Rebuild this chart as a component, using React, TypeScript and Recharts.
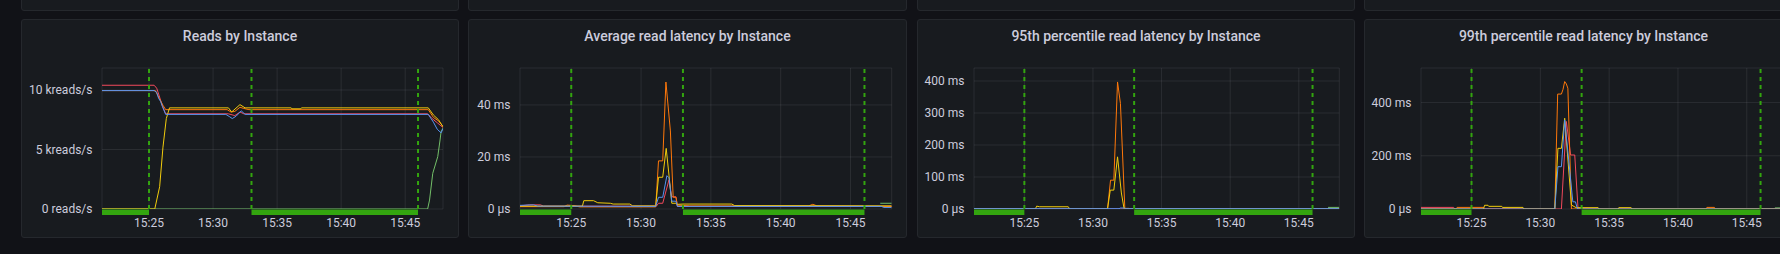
import React from 'react';
import { LineChart, Line, XAxis, YAxis, CartesianGrid, ReferenceLine, ReferenceArea } from 'recharts';

// ---------- shared time axis (minutes after 15:00) ----------
const T_MIN = 21.33;
const T_MAX = 47.95;
const timeTicks = [25, 30, 35, 40, 45];
const timeTickLabels = ['15:25', '15:30', '15:35', '15:40', '15:45'];

// annotation regions [start, end] in minutes after 15:00
const annotationRegions: [number, number][] = [[20, 25], [33, 46]];

// ---------- Reads by Instance (reads/s) ----------
const readsTicks = [0, 5000, 10000];
const readsTickLabels = ['0 reads/s', '5 kreads/s', '10 kreads/s'];
const readsGreen: [number, number][] = [[21.33, 0], [46.75, 0], [46.9, 750], [47.15, 3000], [47.54, 4400], [47.72, 5800], [47.8, 6500], [47.95, 6800]];
const readsRed: [number, number][] = [[21.33, 10400], [25.4, 10400], [25.6, 10150], [25.8, 9500], [26.0, 8800], [26.3, 8000], [31.2, 8000], [31.7, 7850], [32.1, 8150], [32.4, 8000], [46.75, 8000], [47.1, 7600], [47.5, 7250], [47.95, 6850]];
const readsOrange: [number, number][] = [[21.33, 9950], [25.5, 9950], [25.8, 9300], [26.1, 8700], [26.3, 8350], [31.1, 8350], [31.4, 8150], [31.7, 8200], [32.1, 8550], [32.4, 8450], [32.8, 8350], [46.8, 8350], [47.2, 7700], [47.6, 7400], [47.95, 6950]];
const readsYellow: [number, number][] = [[21.33, 0], [25.45, 0], [25.83, 1870], [26.09, 5200], [26.35, 7600], [26.6, 8500], [31.2, 8500], [31.45, 8150], [32.1, 8770], [32.5, 8500], [36.1, 8500], [36.15, 8420], [36.85, 8420], [36.9, 8500], [46.8, 8500], [47.2, 7900], [47.6, 7500], [47.95, 6900]];
const readsBlue: [number, number][] = [[21.33, 9950], [25.4, 9950], [25.6, 9800], [25.75, 9300], [25.9, 9050], [26.05, 8600], [26.3, 7950], [31.0, 7950], [31.3, 7750], [31.5, 7600], [31.8, 7800], [32.2, 8250], [32.5, 7950], [46.8, 7950], [47.2, 7300], [47.5, 6700], [47.8, 6400], [47.95, 6750]];

// ---------- Average read latency (ms) ----------
const avgTicks = [0, 20, 40];
const avgTickLabels = ['0 µs', '20 ms', '40 ms'];
const avgGreen: [number, number][] = [[47.13, 2.2], [47.95, 2.2]];
const avgRed: [number, number][] = [[21.33, 1.2], [22.0, 1.6], [22.8, 1.6], [23.0, 1.1], [31.1, 1.1], [31.25, 2.2], [31.55, 2.2], [32.0, 11.2], [32.2, 4.7], [32.5, 4.7], [32.6, 1.0], [47.95, 1.0]];
const avgOrange: [number, number][] = [[21.33, 0.9], [24.5, 0.9], [24.7, 1.5], [25.2, 1.3], [25.6, 0.8], [31.05, 0.8], [31.25, 18.5], [31.55, 18.5], [31.78, 48.8], [32.1, 30.0], [32.3, 4.5], [32.5, 4.5], [32.6, 1.5], [33.5, 1.2], [42.0, 1.2], [42.3, 1.8], [42.6, 1.2], [47.95, 1.0]];
const avgYellow: [number, number][] = [[21.33, 1.1], [25.8, 1.1], [25.9, 3.2], [26.6, 3.2], [26.9, 2.4], [27.8, 2.2], [28.0, 1.9], [29.2, 1.9], [29.4, 1.2], [31.05, 1.2], [31.25, 12.2], [31.55, 12.2], [31.8, 23.3], [32.0, 13.0], [32.2, 2.2], [32.5, 2.2], [32.6, 1.8], [33.0, 1.9], [36.5, 1.9], [36.7, 1.3], [47.95, 1.2]];
const avgBlue: [number, number][] = [[21.33, 1.4], [22.3, 1.6], [22.6, 1.1], [31.05, 1.0], [31.25, 4.5], [31.55, 4.5], [31.85, 12.8], [32.0, 12.0], [32.2, 3.0], [32.5, 3.0], [32.6, 1.0], [47.2, 1.0], [47.4, 0.6], [47.95, 0.6]];

// ---------- 95th percentile read latency (ms) ----------
const p95Ticks = [0, 100, 200, 300, 400];
const p95TickLabels = ['0 µs', '100 ms', '200 ms', '300 ms', '400 ms'];
const p95Green: [number, number][] = [[47.13, 5], [47.95, 5]];
const p95Red: [number, number][] = [[21.33, 0], [47.95, 0]];
const p95Orange: [number, number][] = [[21.33, 0], [31.06, 0], [31.28, 90], [31.52, 90], [31.79, 397], [32.0, 330], [32.32, 2], [32.6, 2], [32.7, 0], [47.95, 0]];
const p95Yellow: [number, number][] = [[21.33, 0], [25.8, 0], [25.9, 9], [26.1, 7], [28.2, 7], [28.3, 0], [31.06, 0], [31.26, 59], [31.52, 59], [31.79, 163], [32.07, 50], [32.27, 0], [47.95, 0]];
const p95Blue: [number, number][] = [[21.33, 1], [31.9, 1], [32.0, 3], [32.3, 3], [32.4, 1], [47.95, 1]];

// ---------- 99th percentile read latency (ms) ----------
const p99Ticks = [0, 200, 400];
const p99TickLabels = ['0 µs', '200 ms', '400 ms'];
const p99Green: [number, number][] = [[47.04, 4], [47.95, 4]];
const p99Red: [number, number][] = [[21.33, 6], [23.7, 6], [23.8, 0], [31.53, 0], [31.89, 329], [32.2, 203], [32.5, 203], [32.74, 0], [47.95, 0]];
const p99Orange: [number, number][] = [[21.33, 0], [23.9, 0], [23.95, 6], [25.87, 6], [25.9, 0], [31.05, 0], [31.26, 432], [31.53, 432], [31.65, 450], [31.77, 479], [31.89, 470], [32.0, 454], [32.26, 0], [42.05, 0], [42.1, 6], [42.65, 6], [42.7, 0], [47.95, 0]];
const p99Yellow: [number, number][] = [[21.33, 0], [25.87, 0], [25.95, 14], [26.2, 14], [26.25, 10], [27.2, 10], [27.25, 6], [28.74, 6], [28.8, 0], [31.05, 0], [31.28, 228], [31.53, 228], [31.77, 341], [32.26, 15], [32.6, 5], [34.2, 5], [34.25, 0], [35.67, 0], [35.7, 5], [36.6, 5], [36.65, 0], [47.95, 0]];
const p99Blue: [number, number][] = [[21.33, 0], [31.05, 0], [31.28, 159], [31.53, 159], [31.77, 335], [32.36, 27], [32.55, 27], [32.7, 0], [47.95, 0]];

// ---------- styling ----------
const GREEN = '#73BF69';
const YELLOW = '#F2CC0C';
const BLUE = '#5794F2';
const ORANGE = '#FF780A';
const RED = '#F2495C';
const ANN = '#33a50f';
const TEXT = '#ccccdc';
const GRID = 'rgba(204,204,220,0.10)';
const FONT = 'Roboto, "Open Sans", sans-serif';

const toPts = (a: [number, number][]) => a.map(([t, v]) => ({ t, v }));

type Panel = {
  title: string;
  left: number;
  width: number;
  yAxisWidth: number;
  marginRight: number;
  yMax: number;
  yTicks: number[];
  yTickLabels: string[];
  series: { color: string; data: [number, number][] }[];
};

const panels: Panel[] = [
  {
    title: 'Reads by Instance', left: 21, width: 438, yAxisWidth: 81, marginRight: 16, yMax: 11850,
    yTicks: readsTicks, yTickLabels: readsTickLabels,
    series: [
      { color: GREEN, data: readsGreen }, { color: RED, data: readsRed }, { color: ORANGE, data: readsOrange },
      { color: YELLOW, data: readsYellow }, { color: BLUE, data: readsBlue },
    ],
  },
  {
    title: 'Average read latency by Instance', left: 468, width: 439, yAxisWidth: 52, marginRight: 15.3, yMax: 54.2,
    yTicks: avgTicks, yTickLabels: avgTickLabels,
    series: [
      { color: GREEN, data: avgGreen }, { color: RED, data: avgRed }, { color: ORANGE, data: avgOrange },
      { color: YELLOW, data: avgYellow }, { color: BLUE, data: avgBlue },
    ],
  },
  {
    title: '95th percentile read latency by Instance', left: 917, width: 438, yAxisWidth: 57, marginRight: 15.7, yMax: 440.6,
    yTicks: p95Ticks, yTickLabels: p95TickLabels,
    series: [
      { color: GREEN, data: p95Green }, { color: RED, data: p95Red }, { color: ORANGE, data: p95Orange },
      { color: YELLOW, data: p95Yellow }, { color: BLUE, data: p95Blue },
    ],
  },
  {
    title: '99th percentile read latency by Instance', left: 1364, width: 439, yAxisWidth: 57, marginRight: 15.6, yMax: 530,
    yTicks: p99Ticks, yTickLabels: p99TickLabels,
    series: [
      { color: GREEN, data: p99Green }, { color: RED, data: p99Red }, { color: ORANGE, data: p99Orange },
      { color: YELLOW, data: p99Yellow }, { color: BLUE, data: p99Blue },
    ],
  },
];

const RegionBar = (props: any) => {
  const { x, y, width, height } = props;
  return <rect x={x} y={y + height + 0.5} width={width} height={5.5} fill={ANN} />;
};

const boundaries = annotationRegions
  .flatMap((r) => r)
  .filter((t) => t > T_MIN && t < T_MAX);

function PanelChart({ p }: { p: Panel }) {
  return (
    <>
      <div
        style={{
          position: 'absolute', left: p.left, top: 19, width: p.width, height: 219,
          background: '#181b1f', border: '1px solid #25282d', borderRadius: 3, boxSizing: 'border-box',
        }}
      />
      <div
        style={{
          position: 'absolute', left: p.left, top: 29, width: p.width, textAlign: 'center',
          fontFamily: FONT, fontSize: 14, fontWeight: 500, lineHeight: '14px', color: TEXT, whiteSpace: 'nowrap',
        }}
      >
        {p.title}
      </div>
      <div style={{ position: 'absolute', left: p.left, top: 58 }}>
        <LineChart width={p.width} height={180} margin={{ top: 10, right: p.marginRight, left: 0, bottom: 0 }}>
          <CartesianGrid stroke={GRID} strokeWidth={1} />
          <XAxis
            dataKey="t" type="number" domain={[T_MIN, T_MAX]} allowDataOverflow
            ticks={timeTicks} tickFormatter={(v: number) => timeTickLabels[timeTicks.indexOf(v)] ?? ''}
            axisLine={false} tickLine={false} tickSize={0} tickMargin={9.5} height={29}
            tick={{ fill: TEXT, fontSize: 12, fontFamily: FONT }} interval={0}
          />
          <YAxis
            type="number" domain={[0, p.yMax]} allowDataOverflow ticks={p.yTicks}
            tickFormatter={(v: number) => p.yTickLabels[p.yTicks.indexOf(v)] ?? ''}
            axisLine={false} tickLine={false} tickSize={0} tickMargin={9.5} width={p.yAxisWidth}
            tick={{ fill: TEXT, fontSize: 12, fontFamily: FONT }} interval={0}
          />
          {annotationRegions.map((r, i) => (
            <ReferenceArea
              key={'ra' + i} x1={Math.max(r[0], T_MIN)} x2={Math.min(r[1], T_MAX)}
              ifOverflow="visible" shape={RegionBar}
            />
          ))}
          {p.series.map((s, i) => (
            <Line
              key={i} data={toPts(s.data)} dataKey="v" type="linear" stroke={s.color} strokeWidth={1}
              dot={false} activeDot={false} isAnimationActive={false}
            />
          ))}
          {boundaries.map((t, i) => (
            <ReferenceLine key={'rl' + i} x={t} stroke={ANN} strokeWidth={2} strokeDasharray="4 4" ifOverflow="visible" />
          ))}
        </LineChart>
      </div>
    </>
  );
}

export default function App() {
  return (
    <div
      style={{
        position: 'absolute', left: 0, top: 0, width: 1780, height: 254, overflow: 'hidden',
        background: '#111217',
      }}
    >
      {panels.map((p, i) => (
        <div
          key={'top' + i}
          style={{
            position: 'absolute', left: p.left, top: -20, width: p.width, height: 31,
            background: '#181b1f', border: '1px solid #25282d', borderRadius: 3, boxSizing: 'border-box',
          }}
        />
      ))}
      {panels.map((p, i) => (
        <PanelChart key={i} p={p} />
      ))}
    </div>
  );
}
